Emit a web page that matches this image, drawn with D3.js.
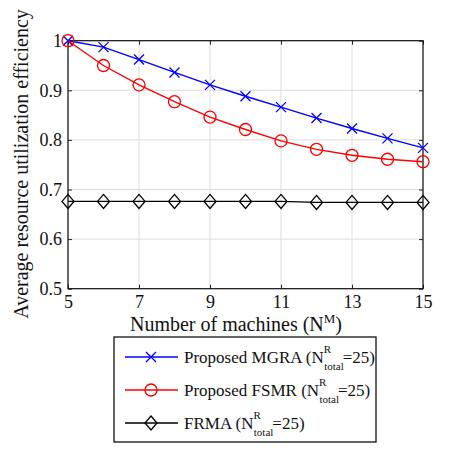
<!DOCTYPE html>
<html><head><meta charset="utf-8">
<script src="https://cdn.jsdelivr.net/npm/d3@7"></script>
<style>body{margin:0;background:#fff}text{font-family:"Liberation Serif","Times New Roman",serif}</style>
</head><body><svg id="c" width="474" height="464"></svg>
<script>
const machines = [5, 6, 7, 8, 9, 10, 11, 12, 13, 14, 15];
const mgra = [1, 0.987, 0.962, 0.936, 0.911, 0.888, 0.866, 0.844, 0.823, 0.803, 0.784];
const fsmr = [1, 0.95, 0.911, 0.877, 0.846, 0.821, 0.798, 0.781, 0.769, 0.761, 0.756];
const frma = [0.676, 0.676, 0.676, 0.676, 0.676, 0.676, 0.676, 0.674, 0.674, 0.674, 0.674];
const xTicks = [5, 7, 9, 11, 13, 15];
const yTicks = [0.5, 0.6, 0.7, 0.8, 0.9, 1];

const svg = d3.select("#c");
const x = d3.scaleLinear().domain([5, 15]).range([68, 423]);
const y = d3.scaleLinear().domain([0.5, 1]).range([288.7, 40.7]);

// grid
svg.append("g").selectAll("line").data(xTicks).join("line")
  .attr("x1", d => x(d)).attr("x2", d => x(d)).attr("y1", y(0.5)).attr("y2", y(1))
  .attr("stroke", "#ddd");
svg.append("g").selectAll("line").data(yTicks).join("line")
  .attr("x1", x(5)).attr("x2", x(15)).attr("y1", d => y(d)).attr("y2", d => y(d))
  .attr("stroke", "#ddd");

svg.append("g").attr("transform", `translate(0,${y(0.5)})`)
  .call(d3.axisBottom(x).tickValues(xTicks).tickSize(-4).tickPadding(7));
svg.append("g").attr("transform", `translate(${x(5)},0)`)
  .call(d3.axisLeft(y).tickValues(yTicks).tickFormat(d => d === 1 ? "1" : d3.format(".1f")(d)).tickSize(-4).tickPadding(6));
svg.append("g").attr("transform", `translate(0,${y(1)})`).call(d3.axisTop(x).tickValues(xTicks).tickSize(-4).tickFormat(""));
svg.append("g").attr("transform", `translate(${x(15)},0)`).call(d3.axisRight(y).tickValues(yTicks).tickSize(-4).tickFormat(""));
svg.selectAll(".domain").remove();
svg.selectAll("g").attr("font-family", null);
svg.selectAll(".tick text").attr("font-size", 18).attr("fill", "#111");
svg.selectAll(".tick line").attr("stroke", "#222");
svg.append("rect").attr("x", x(5)).attr("y", y(1)).attr("width", x(15) - x(5)).attr("height", y(0.5) - y(1))
  .attr("fill", "none").attr("stroke", "#111").attr("stroke-width", 1.2);

const line = d3.line().x((d, i) => x(machines[i])).y(d => y(d));
const series = [
  {v: mgra, c: "#0000ff", m: "x", name: "Proposed MGRA ("},
  {v: fsmr, c: "#ff0000", m: "o", name: "Proposed FSMR ("},
  {v: frma, c: "#000", m: "d", name: "FRMA ("}
];
function marker(g, type, cx, cy, c) {
  if (type === "x") {
    g.append("path").attr("d", `M${cx-5},${cy-5}L${cx+5},${cy+5}M${cx-5},${cy+5}L${cx+5},${cy-5}`)
      .attr("stroke", c).attr("stroke-width", 1.3).attr("fill", "none");
  } else if (type === "o") {
    g.append("circle").attr("cx", cx).attr("cy", cy).attr("r", 6).attr("fill", "none").attr("stroke", c).attr("stroke-width", 1.3);
  } else {
    g.append("path").attr("d", `M${cx},${cy-7}L${cx+6},${cy}L${cx},${cy+7}L${cx-6},${cy}Z`)
      .attr("fill", "none").attr("stroke", c).attr("stroke-width", 1.3);
  }
}
series.forEach(s => {
  svg.append("path").datum(s.v).attr("d", line).attr("fill", "none").attr("stroke", s.c).attr("stroke-width", 1.4);
  const g = svg.append("g");
  s.v.forEach((d, i) => marker(g, s.m, x(machines[i]), y(d), s.c));
});

// axis labels
svg.append("text").attr("x", 236).attr("y", 331).attr("text-anchor", "middle").attr("font-size", 20).attr("fill", "#111")
  .html('Number of machines (N<tspan dy="-8" font-size="13">M</tspan><tspan dy="8">)</tspan>');
svg.append("text").attr("transform", "translate(28,164) rotate(-90)").attr("text-anchor", "middle")
  .attr("font-size", 20).attr("fill", "#111").text("Average resource utilization efficiency");

// legend
svg.append("rect").attr("x", 114).attr("y", 337).attr("width", 262).attr("height", 105)
  .attr("fill", "#fff").attr("stroke", "#111").attr("stroke-width", 1.3);
series.forEach((s, i) => {
  const ly = 357 + i * 33;
  svg.append("line").attr("x1", 125).attr("x2", 178).attr("y1", ly).attr("y2", ly).attr("stroke", s.c).attr("stroke-width", 1.4);
  marker(svg.append("g"), s.m, 151, ly, s.c);
  svg.append("text").attr("x", 184).attr("y", ly + 6).attr("font-size", 17).attr("fill", "#111")
    .html(`${s.name}N<tspan dy="-10" font-size="11">R</tspan><tspan dx="-7" dy="17" font-size="11">total</tspan><tspan dx="-1" dy="-7">=25)</tspan>`);
});
</script></body></html>
